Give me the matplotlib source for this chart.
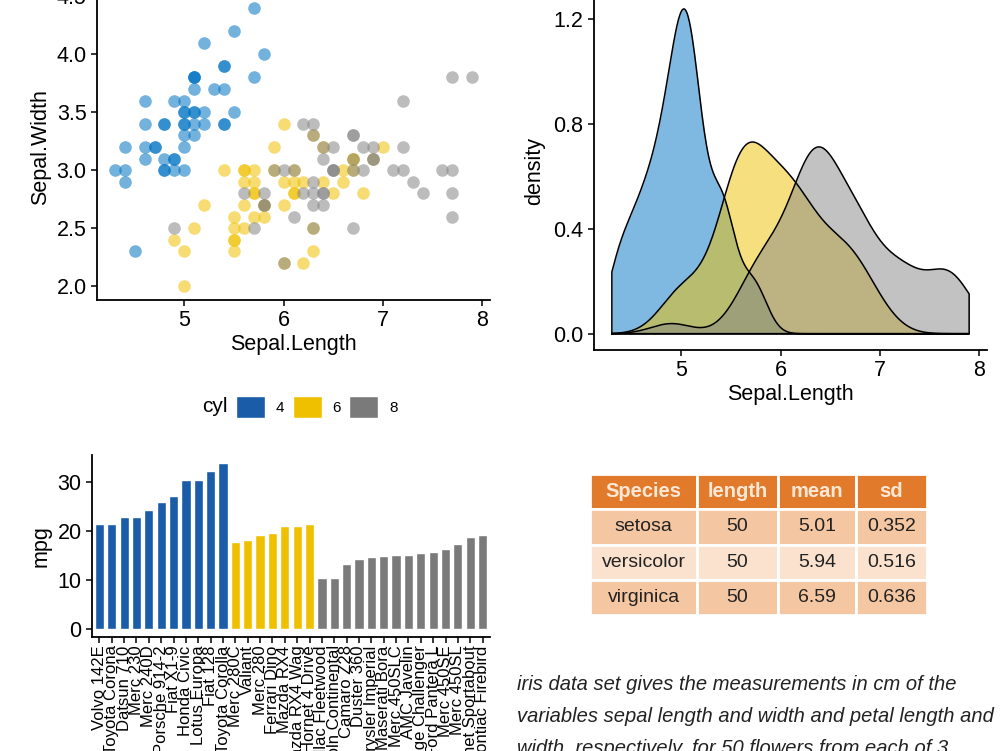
import numpy as np
import matplotlib
matplotlib.use("Agg")
import matplotlib.pyplot as plt
import matplotlib.patches as patches

plt.rcParams['font.family'] = ['Liberation Sans', 'DejaVu Sans']

# ---------------------------------
# iris: Sepal.Length / Sepal.Width per species
# ---------------------------------
setosa_len = [5.1, 4.9, 4.7, 4.6, 5.0, 5.4, 4.6, 5.0, 4.4, 4.9, 5.4, 4.8, 4.8, 4.3, 5.8, 5.7, 5.4,
              5.1, 5.7, 5.1, 5.4, 5.1, 4.6, 5.1, 4.8, 5.0, 5.0, 5.2, 5.2, 4.7, 4.8, 5.4, 5.2, 5.5,
              4.9, 5.0, 5.5, 4.9, 4.4, 5.1, 5.0, 4.5, 4.4, 5.0, 5.1, 4.8, 5.1, 4.6, 5.3, 5.0]
setosa_wid = [3.5, 3.0, 3.2, 3.1, 3.6, 3.9, 3.4, 3.4, 2.9, 3.1, 3.7, 3.4, 3.0, 3.0, 4.0, 4.4, 3.9,
              3.5, 3.8, 3.8, 3.4, 3.7, 3.6, 3.3, 3.4, 3.0, 3.4, 3.5, 3.4, 3.2, 3.1, 3.4, 4.1, 4.2,
              3.1, 3.2, 3.5, 3.6, 3.0, 3.4, 3.5, 2.3, 3.2, 3.5, 3.8, 3.0, 3.8, 3.2, 3.7, 3.3]
versi_len = [7.0, 6.4, 6.9, 5.5, 6.5, 5.7, 6.3, 4.9, 6.6, 5.2, 5.0, 5.9, 6.0, 6.1, 5.6, 6.7, 5.6,
             5.8, 6.2, 5.6, 5.9, 6.1, 6.3, 6.1, 6.4, 6.6, 6.8, 6.7, 6.0, 5.7, 5.5, 5.5, 5.8, 6.0,
             5.4, 6.0, 6.7, 6.3, 5.6, 5.5, 5.5, 6.1, 5.8, 5.0, 5.6, 5.7, 5.7, 6.2, 5.1, 5.7]
versi_wid = [3.2, 3.2, 3.1, 2.3, 2.8, 2.8, 3.3, 2.4, 2.9, 2.7, 2.0, 3.0, 2.2, 2.9, 2.9, 3.1, 3.0,
             2.7, 2.2, 2.5, 3.2, 2.8, 2.5, 2.8, 2.9, 3.0, 2.8, 3.0, 2.9, 2.6, 2.4, 2.4, 2.7, 2.7,
             3.0, 3.4, 3.1, 2.3, 3.0, 2.5, 2.6, 3.0, 2.6, 2.3, 2.7, 3.0, 2.9, 2.9, 2.5, 2.8]
virg_len = [6.3, 5.8, 7.1, 6.3, 6.5, 7.6, 4.9, 7.3, 6.7, 7.2, 6.5, 6.4, 6.8, 5.7, 5.8, 6.4, 6.5,
            7.7, 7.7, 6.0, 6.9, 5.6, 7.7, 6.3, 6.7, 7.2, 6.2, 6.1, 6.4, 7.2, 7.4, 7.9, 6.4, 6.3,
            6.1, 7.7, 6.3, 6.4, 6.0, 6.9, 6.7, 6.9, 5.8, 6.8, 6.7, 6.7, 6.3, 6.5, 6.2, 5.9]
virg_wid = [3.3, 2.7, 3.0, 2.9, 3.0, 3.0, 2.5, 2.9, 2.5, 3.6, 3.2, 2.7, 3.0, 2.5, 2.8, 3.2, 3.0,
            3.8, 2.6, 2.2, 3.2, 2.8, 2.8, 2.7, 3.3, 3.2, 2.8, 3.0, 2.8, 3.0, 2.8, 3.8, 2.8, 2.8,
            2.6, 3.0, 3.4, 3.1, 3.0, 3.1, 3.1, 3.1, 2.7, 3.2, 3.3, 3.0, 2.5, 3.0, 3.4, 3.0]

species_len = [setosa_len, versi_len, virg_len]
species_wid = [setosa_wid, versi_wid, virg_wid]
jco = ['#0073C2', '#EFC000', '#868686']

# ---------------------------------
# mtcars sorted by cyl, then mpg
# ---------------------------------
car_names = ["Volvo 142E", "Toyota Corona", "Datsun 710", "Merc 230", "Merc 240D", "Porsche 914-2",
             "Fiat X1-9", "Honda Civic", "Lotus Europa", "Fiat 128", "Toyota Corolla",
             "Merc 280C", "Valiant", "Merc 280", "Ferrari Dino", "Mazda RX4", "Mazda RX4 Wag",
             "Hornet 4 Drive",
             "Cadillac Fleetwood", "Lincoln Continental", "Camaro Z28", "Duster 360",
             "Chrysler Imperial", "Maserati Bora", "Merc 450SLC", "AMC Javelin",
             "Dodge Challenger", "Ford Pantera L", "Merc 450SE", "Merc 450SL",
             "Hornet Sportabout", "Pontiac Firebird"]
car_mpg = [21.4, 21.5, 22.8, 22.8, 24.4, 26.0, 27.3, 30.4, 30.4, 32.4, 33.9,
           17.8, 18.1, 19.2, 19.7, 21.0, 21.0, 21.4,
           10.4, 10.4, 13.3, 14.3, 14.7, 15.0, 15.2, 15.2, 15.5, 15.8, 16.4, 17.3, 18.7, 19.2]
car_cyl = [4] * 11 + [6] * 7 + [8] * 14
cyl_levels = [4, 6, 8]
bar_colors = {4: '#1a5ca8', 6: '#EFC000', 8: '#7a7a7a'}

# ---------------------------------
# summary table
# ---------------------------------
tab_cols = ["Species", "length", "mean", "sd"]
tab_rows = [["setosa", "50", "5.01", "0.352"],
            ["versicolor", "50", "5.94", "0.516"],
            ["virginica", "50", "6.59", "0.636"]]

caption = ["iris data set gives the measurements in cm of the",
           "variables sepal length and width and petal length and",
           "width, respectively, for 50 flowers from each of 3"]


def style_axes(ax):
    for s in ['top', 'right']:
        ax.spines[s].set_visible(False)
    for s in ['left', 'bottom']:
        ax.spines[s].set_linewidth(1.3)
    ax.tick_params(width=1.1, length=4, labelsize=15.5, colors='black')


def nrd0(x):
    x = np.asarray(x)
    sd = np.std(x, ddof=1)
    q75, q25 = np.percentile(x, [75, 25])
    lo = min(sd, (q75 - q25) / 1.34)
    return 0.9 * lo * len(x) ** -0.2


fig = plt.figure(figsize=(10, 7.51), dpi=100)

# scatter
ax1 = fig.add_axes([0.097, 0.6005, 0.393, 0.4075])
for i in range(3):
    ax1.scatter(species_len[i], species_wid[i], s=82, color=jco[i], alpha=0.55, linewidths=0)
ax1.set_xlim(4.12, 8.08)
ax1.set_ylim(1.88, 4.52)
ax1.set_xticks([5, 6, 7, 8])
ax1.set_yticks([2.0, 2.5, 3.0, 3.5, 4.0, 4.5])
ax1.set_yticklabels(['2.0', '2.5', '3.0', '3.5', '4.0', '4.5'])
ax1.set_xlabel('Sepal.Length', fontsize=15.5, labelpad=2)
ax1.set_ylabel('Sepal.Width', fontsize=15.5, labelpad=4)
style_axes(ax1)

# density
ax2 = fig.add_axes([0.594, 0.534, 0.393, 0.4753])
all_len = np.concatenate(species_len)
grid = np.linspace(all_len.min(), all_len.max(), 512)
for i in range(3):
    x = np.asarray(species_len[i])
    bw = nrd0(x)
    dens = np.exp(-0.5 * ((grid[:, None] - x[None, :]) / bw) ** 2).sum(axis=1)
    dens /= len(x) * bw * np.sqrt(2 * np.pi)
    ax2.fill_between(grid, 0, dens, color=jco[i], alpha=0.5, linewidth=0)
    xs = np.concatenate([[grid[0]], grid, [grid[-1], grid[0]]])
    ys = np.concatenate([[0], dens, [0, 0]])
    ax2.plot(xs, ys, color='black', linewidth=1.1)
ax2.set_xlim(4.12, 8.08)
ax2.set_ylim(-0.062, 1.30)
ax2.set_xticks([5, 6, 7, 8])
ax2.set_yticks([0.0, 0.4, 0.8, 1.2])
ax2.set_yticklabels(['0.0', '0.4', '0.8', '1.2'])
ax2.set_xlabel('Sepal.Length', fontsize=15.5, labelpad=2)
ax2.set_ylabel('density', fontsize=15.5, labelpad=6)
style_axes(ax2)

# bar plot
ax3 = fig.add_axes([0.092, 0.1518, 0.398, 0.2423])
pos = np.arange(len(car_names))
ax3.bar(pos, car_mpg, width=0.75, color=[bar_colors[c] for c in car_cyl],
        edgecolor='white', linewidth=1.0)
ax3.set_xlim(-0.6, len(car_names) - 0.4)
ax3.set_ylim(-1.7, 35.6)
ax3.set_yticks([0, 10, 20, 30])
ax3.set_xticks(pos)
ax3.set_xticklabels(car_names, rotation=90)
ax3.set_ylabel('mpg', fontsize=15.5, labelpad=4)
style_axes(ax3)
ax3.tick_params(axis='x', labelsize=12, pad=2)

handles = [patches.Patch(facecolor=bar_colors[c], edgecolor='white') for c in cyl_levels]
fig.legend(handles, [str(c) for c in cyl_levels], loc='center left',
           bbox_to_anchor=(0.236, 1 - 407 / 751), ncol=3, frameon=False, fontsize=11,
           handlelength=1.9, handleheight=1.9, handletextpad=0.7, columnspacing=0.55,
           borderpad=0, borderaxespad=0)
fig.text(0.228, 1 - 407 / 751, 'cyl', fontsize=15, ha='right', va='center')

# table
ax4 = fig.add_axes([0.59, 1 - 615 / 751, 0.337, 141 / 751])
ax4.axis('off')
tbl = ax4.table(cellText=tab_rows, colLabels=tab_cols, cellLoc='center',
                colWidths=[107, 81, 78, 71], bbox=[0, 0, 1, 1])
tbl.auto_set_font_size(False)
row_fill = ['#f5c6a2', '#fbe2cf', '#f5c6a2']
for (r, c), cell in tbl.get_celld().items():
    cell.set_edgecolor('white')
    cell.set_linewidth(2)
    if r == 0:
        cell.set_facecolor('#e27a2c')
        cell.get_text().set_color('#fde8d6')
        cell.get_text().set_fontweight('bold')
        cell.get_text().set_fontsize(14.5)
    else:
        cell.set_facecolor(row_fill[r - 1])
        cell.get_text().set_color('#222222')
        cell.get_text().set_fontsize(14)

# caption text
for k, line in enumerate(caption):
    fig.text(0.517, 1 - (685 + 32 * k) / 751, line, fontsize=14.5, style='italic',
             ha='left', va='center', color='#222222')

fig.savefig('out.png', dpi=100)
